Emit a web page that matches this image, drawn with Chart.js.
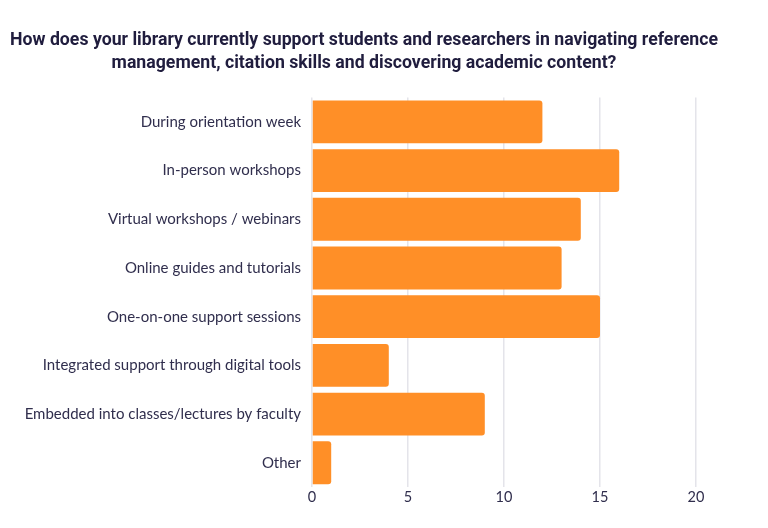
<!DOCTYPE html>
<html>
<head>
<meta charset="utf-8">
<script src="https://cdn.jsdelivr.net/npm/chart.js@4.4.1/dist/chart.umd.min.js"></script>
<style>
  html, body { margin: 0; padding: 0; background: #ffffff; }
  #wrap { width: 768px; height: 528px; }
</style>
</head>
<body>
<div id="wrap"><canvas id="supportChart" width="768" height="528"></canvas></div>
<script>
// survey answers
const categories = [
    "During orientation week",
    "In-person workshops",
    "Virtual workshops / webinars",
    "Online guides and tutorials",
    "One-on-one support sessions",
    "Integrated support through digital tools",
    "Embedded into classes/lectures by faculty",
    "Other",
];
const responses = [12, 16, 14, 13, 15, 4, 9, 1];
const xTicks = [0, 5, 10, 15, 20];

const titleLines = [
    "How does your library currently support students and researchers in navigating reference",
    "management, citation skills and discovering academic content?",
];

const barColor = "#ff8f27";
const gridColor = "#e4e4ea";
const textColor = "#302e4d";

// right padding keeps the title centred like the source; axis runs a bit past 20
const padRight = 40;
const xMax = 20 * (768 - padRight - 312) / (696 - 312);

const ctx = document.getElementById("supportChart").getContext("2d");
new Chart(ctx, {
    type: "bar",
    data: {
        labels: categories,
        datasets: [{
            label: "Responses",
            data: responses,
            backgroundColor: barColor,
            borderRadius: 3,
            borderSkipped: "start",
            barPercentage: 0.88,
            categoryPercentage: 1.0,
        }],
    },
    options: {
        indexAxis: "y",
        responsive: false,
        animation: false,
        layout: { padding: { top: 29.5, right: padRight, bottom: 20.5, left: 0 } },
        plugins: {
            legend: { display: false },
            tooltip: { enabled: false },
            title: {
                display: true,
                text: titleLines,
                color: "#201d3e",
                font: { family: "Roboto", weight: "bold", size: 17.7, lineHeight: 1.3 },
                padding: { top: 0, bottom: 22 },
            },
        },
        scales: {
            x: {
                min: 0,
                max: xMax,
                afterBuildTicks: s => { s.ticks = xTicks.map(v => ({ value: v })); },
                grid: { color: gridColor, lineWidth: 1.5, drawTicks: false },
                border: { display: false },
                ticks: {
                    color: textColor,
                    padding: 1.5,
                    font: { family: "Lato", size: 14.5 },
                },
            },
            y: {
                afterFit: s => { s.width = 312; },
                grid: { display: false, drawTicks: false },
                border: { display: false },
                ticks: {
                    color: textColor,
                    padding: 11,
                    font: { family: "Lato", size: 15 },
                },
            },
        },
    },
});
</script>
</body>
</html>
